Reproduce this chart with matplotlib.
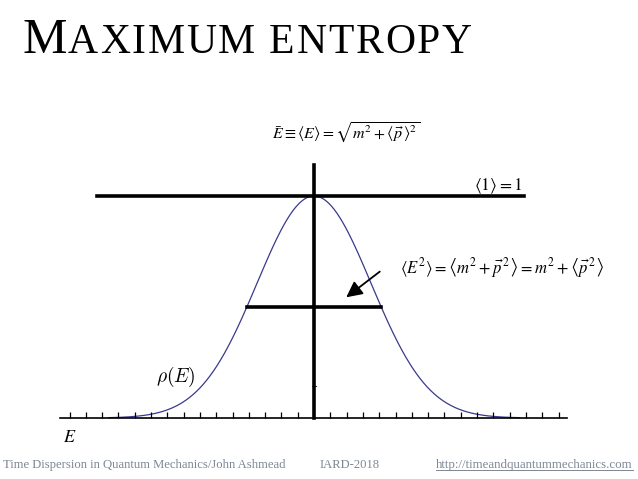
import matplotlib.pyplot as plt
import numpy as np

# energy axis (in tick units), gaussian width and the levels drawn
tick_pos = np.arange(-15, 16)
sigma = 3.5
curve_lim = 12.6
axis_span = [-15.6, 15.5]
top_level = 1.0
top_span = [-13.3, 12.9]
half_level = 0.5
vert_top = 1.14
arrow_from = (4.17, 0.667)
arrow_to = (1.84, 0.536)

title_big = "M"
title_rest = "AXIMUM ENTROPY"
footer = ["Time Dispersion in Quantum Mechanics/John Ashmead", "IARD-2018",
          "http://timeandquantummechanics.com"]

fig = plt.figure(figsize=(6.38, 4.79), dpi=100)
ax = fig.add_axes([0.0834, 0.081, 0.8176, 0.6489])
ax.set_xlim(-16, 16)
ax.set_ylim(-0.1, 1.3)
ax.axis('off')

E = np.linspace(-curve_lim, curve_lim, 600)
rho = np.exp(-E**2/(2*sigma**2))
ax.plot(E, rho, color='#3a3a8c', lw=0.9, zorder=2)

# axis + ticks
ax.plot(axis_span, [0, 0], color='k', lw=1.2)
ax.vlines(tick_pos[tick_pos != 0], 0, 0.027, color='k', lw=0.9)
ax.plot([0, 0], [0, vert_top], color='k', lw=2.6, zorder=3)
ax.plot([-0.12, 0.12], [0.144, 0.144], color='k', lw=0.6, zorder=3)

ax.plot(top_span, [top_level, top_level], color='k', lw=2.6, zorder=3)
hw = sigma*np.sqrt(2*np.log(2))
ax.plot([-hw, hw], [half_level, half_level], color='k', lw=2.6, zorder=3)

ax.annotate('', xy=arrow_to, xytext=arrow_from,
            arrowprops=dict(arrowstyle='-|>', color='k', lw=1.3, mutation_scale=24))

ax.text(1.95, 1.285, r'$\bar{E} \equiv \langle E\rangle = \sqrt{m^2 + \langle \vec{p}\,\rangle^2}$',
        ha='center', va='center', fontsize=11.5, math_fontfamily='stix')
ax.text(12.8, 1.045, r'$\langle 1\rangle = 1$', ha='right', va='center',
        fontsize=12.5, math_fontfamily='stix')
ax.text(5.25, 0.675, r'$\left\langle E^2\right\rangle = \left\langle m^2+\vec{p}^{\,2}\right\rangle = m^2+\left\langle \vec{p}^{\,2}\right\rangle$',
        ha='left', va='center', fontsize=12, math_fontfamily='stix')
ax.text(-9.7, 0.183, r'$\rho(E)$', ha='left', va='center', fontsize=14,
        math_fontfamily='cm')
ax.text(-15.4, -0.085, r'$E$', ha='left', va='center', fontsize=13,
        math_fontfamily='stix')

# title in small caps, letters spread out a bit
ty = 1 - 53/479
t1 = fig.text(22/638, ty, title_big, fontsize=36, family='Liberation Serif', va='baseline')
fig.canvas.draw()
r = fig.canvas.get_renderer()
x0 = t1.get_window_extent(r).x1 + 1.5
gap = 1.8
probe = fig.text(0, 0, '', fontsize=30, family='Liberation Serif')
for i, ch in enumerate(title_rest):
    probe.set_text(title_rest[:i].replace(' ', '\u00a0') + '|')
    wp = probe.get_window_extent(r).width
    probe.set_text('|')
    wbar = probe.get_window_extent(r).width
    x = x0 + (wp - wbar if i else 0) + i*gap
    fig.text(x/638, ty, ch, fontsize=30, family='Liberation Serif', va='baseline')
probe.remove()

fc = '#7d8793'
fy = 1 - 468/479
fig.text(3/638, fy, footer[0], fontsize=9.1, family='Liberation Serif', color=fc, va='baseline')
fig.text(320/638, fy, footer[1], fontsize=9.1, family='Liberation Serif', color=fc, va='baseline')
u = fig.text(633/638, fy, footer[2], fontsize=9.3, family='Liberation Serif', color=fc,
             va='baseline', ha='right')
fig.canvas.draw()
ub = u.get_window_extent()
fig.add_artist(plt.Line2D([ub.x0/638, ub.x1/638], [fy - 1.5/479, fy - 1.5/479],
                          color=fc, lw=0.7))

fig.savefig('out.png', dpi=100)
